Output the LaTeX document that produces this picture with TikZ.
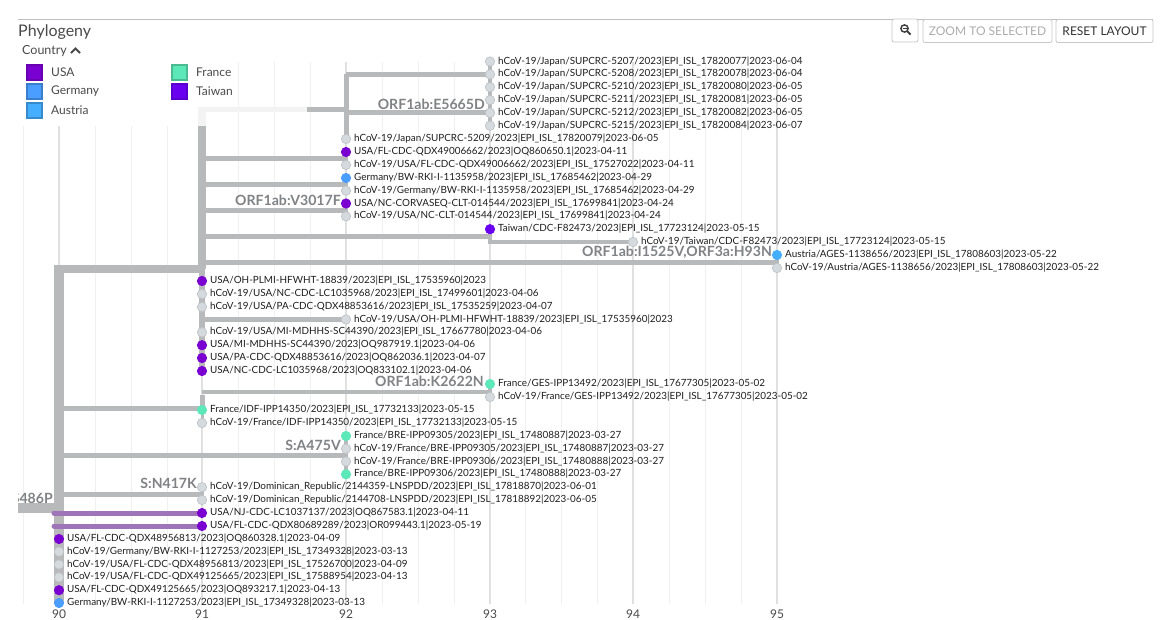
\documentclass[tikz,border=0pt]{standalone}
\usepackage{fontspec}
\setmainfont{Lato}
\pgfdeclarelayer{gridlayer}
\pgfdeclarelayer{branchlayer}
\pgfsetlayers{gridlayer,branchlayer,main}
\definecolor{brgray}{HTML}{B8B9BB}
\definecolor{brlight}{HTML}{F3F3F3}
\definecolor{brpurple}{HTML}{A074B8}
\definecolor{mutgray}{HTML}{808285}
\definecolor{txtdark}{HTML}{1E1E1E}
\definecolor{uiText}{HTML}{4A4A4A}
\definecolor{cUSA}{HTML}{7A00D2}
\definecolor{cGER}{HTML}{4A9EFF}
\definecolor{cAUT}{HTML}{45AEFF}
\definecolor{cFRA}{HTML}{5CE8B8}
\definecolor{cTWN}{HTML}{6A00F0}
\definecolor{cSEQ}{HTML}{D5DADF}
\tikzset{
  tipdot/.style={circle,minimum size=9.4pt,inner sep=0pt,line width=0.7pt},
  seqdot/.style={tipdot,fill=cSEQ,draw=cSEQ!90!black},
  usadot/.style={tipdot,fill=cUSA,draw=cUSA},
  gerdot/.style={tipdot,fill=cGER,draw=cGER},
  autdot/.style={tipdot,fill=cAUT,draw=cAUT},
  fradot/.style={tipdot,fill=cFRA,draw=cFRA},
  twndot/.style={tipdot,fill=cTWN,draw=cTWN},
  tiplabel/.style={anchor=west,inner sep=0pt,text=txtdark,font=\fontsize{9.89}{11}\selectfont},
  mutlabel/.style={anchor=east,inner sep=0pt,text=mutgray,font=\fontsize{14.1}{17}\selectfont\bfseries},
  br/.style={draw=brgray,line width=#1pt},
  br/.default=5,
  minorgrid/.style={draw=black!6,line width=1pt},
  majorgrid/.style={draw=black!12,line width=2pt},
  axislabel/.style={inner sep=0pt,anchor=base,text=uiText,font=\fontsize{12}{14}\selectfont},
  legendbox/.style={minimum size=15.5pt,inner sep=0pt,line width=1.6pt},
  legendtext/.style={anchor=west,inner sep=0pt,text=uiText,font=\fontsize{12}{14}\selectfont},
  uibtn/.style={draw=black!22,rounded corners=2pt,fill=white,line width=0.8pt,minimum height=23pt,inner sep=0pt,font=\fontsize{12}{14}\selectfont},
}
\newcommand{\tipnode}[5]{%
  \node[#4] (#1) at (#2,#3) {};
  \node[tiplabel] (#1-l) at (#2+8,#3-0.3) {#5};
}
\begin{document}
\begin{tikzpicture}[x=1pt,y=-1pt]
\clip (0,0) rectangle (1171,619);
% header
\draw[black!25,line width=1pt] (18,19.5) -- (1153,19.5);
\node[anchor=west,inner sep=0pt,text=uiText,font=\fontsize{16}{18}\selectfont] (title) at (18,32) {Phylogeny};
\node[anchor=west,inner sep=0pt,text=uiText,font=\fontsize{12.5}{14}\selectfont] (country) at (22,51.5) {Country};
\draw[uiText,line width=1.9pt,line join=miter] (71,53) -- (75.5,48.5) -- (80,53);
\node[uibtn,minimum width=26pt] (zoomicon) at (905,30.5) {};
\node[uibtn,minimum width=129pt,text=black!32] (zoomsel) at (987.5,31) {ZOOM TO SELECTED};
\node[uibtn,minimum width=97pt,text=black!80] (resetbtn) at (1104.5,31) {RESET LAYOUT};
\draw[black!75,line width=1.5pt] (904.5,28.5) circle (3.6);
\draw[black!75,line width=2.1pt] (907,31) -- (910.5,34.5);
\draw[black!75,line width=1pt] (902.5,28.5) -- (906.5,28.5);
% legend
\node[legendbox,fill=cUSA,draw=cUSA!85!black] (l1) at (34.5,72.5) {};
\node[legendtext] (l1t) at (51,72.3) {USA};
\node[legendbox,fill=cGER,draw=cGER!80!black] (l2) at (34.5,91.5) {};
\node[legendtext] (l2t) at (51,91.3) {Germany};
\node[legendbox,fill=cAUT,draw=cAUT!80!black] (l3) at (34.5,110.5) {};
\node[legendtext] (l3t) at (51,110.3) {Austria};
\node[legendbox,fill=cFRA,draw=cFRA!80!black] (l4) at (179.5,72.5) {};
\node[legendtext] (l4t) at (196,72.3) {France};
\node[legendbox,fill=cTWN,draw=cTWN!85!black] (l5) at (179.5,91.5) {};
\node[legendtext] (l5t) at (196,91.3) {Taiwan};
% tips x=490 Japan
\tipnode{a1}{490}{61.5}{seqdot}{hCoV-19/Japan/SUPCRC-5207/2023|EPI\_ISL\_17820077|2023-06-04}
\tipnode{a2}{490}{74.3}{seqdot}{hCoV-19/Japan/SUPCRC-5208/2023|EPI\_ISL\_17820078|2023-06-04}
\tipnode{a3}{490}{87.1}{seqdot}{hCoV-19/Japan/SUPCRC-5210/2023|EPI\_ISL\_17820080|2023-06-05}
\tipnode{a4}{490}{100}{seqdot}{hCoV-19/Japan/SUPCRC-5211/2023|EPI\_ISL\_17820081|2023-06-05}
\tipnode{a5}{490}{112.8}{seqdot}{hCoV-19/Japan/SUPCRC-5212/2023|EPI\_ISL\_17820082|2023-06-05}
\tipnode{a6}{490}{125.7}{seqdot}{hCoV-19/Japan/SUPCRC-5215/2023|EPI\_ISL\_17820084|2023-06-07}
% x=346
\tipnode{b1}{346}{139}{seqdot}{hCoV-19/Japan/SUPCRC-5209/2023|EPI\_ISL\_17820079|2023-06-05}
\tipnode{b2}{346}{152}{usadot}{USA/FL-CDC-QDX49006662/2023|OQ860650.1|2023-04-11}
\tipnode{b3}{346}{165}{seqdot}{hCoV-19/USA/FL-CDC-QDX49006662/2023|EPI\_ISL\_17527022|2023-04-11}
\tipnode{b4}{346}{178}{gerdot}{Germany/BW-RKI-I-1135958/2023|EPI\_ISL\_17685462|2023-04-29}
\tipnode{b5}{346}{190.7}{seqdot}{hCoV-19/Germany/BW-RKI-I-1135958/2023|EPI\_ISL\_17685462|2023-04-29}
\tipnode{b6}{346}{203.5}{usadot}{USA/NC-CORVASEQ-CLT-014544/2023|EPI\_ISL\_17699841|2023-04-24}
\tipnode{b7}{346}{216.3}{seqdot}{hCoV-19/USA/NC-CLT-014544/2023|EPI\_ISL\_17699841|2023-04-24}
\tipnode{c1}{490}{229.2}{twndot}{Taiwan/CDC-F82473/2023|EPI\_ISL\_17723124|2023-05-15}
\tipnode{c2}{633}{242}{seqdot}{hCoV-19/Taiwan/CDC-F82473/2023|EPI\_ISL\_17723124|2023-05-15}
\tipnode{d1}{777}{255}{autdot}{Austria/AGES-1138656/2023|EPI\_ISL\_17808603|2023-05-22}
\tipnode{d2}{777}{268}{seqdot}{hCoV-19/Austria/AGES-1138656/2023|EPI\_ISL\_17808603|2023-05-22}
% x=202
\tipnode{e1}{202}{281}{usadot}{USA/OH-PLMI-HFWHT-18839/2023|EPI\_ISL\_17535960|2023}
\tipnode{e2}{202}{294}{seqdot}{hCoV-19/USA/NC-CDC-LC1035968/2023|EPI\_ISL\_17499601|2023-04-06}
\tipnode{e3}{202}{307}{seqdot}{hCoV-19/USA/PA-CDC-QDX48853616/2023|EPI\_ISL\_17535259|2023-04-07}
\tipnode{e4}{346}{319.5}{seqdot}{hCoV-19/USA/OH-PLMI-HFWHT-18839/2023|EPI\_ISL\_17535960|2023}
\tipnode{e5}{202}{332.3}{seqdot}{hCoV-19/USA/MI-MDHHS-SC44390/2023|EPI\_ISL\_17667780|2023-04-06}
\tipnode{e6}{202}{345.2}{usadot}{USA/MI-MDHHS-SC44390/2023|OQ987919.1|2023-04-06}
\tipnode{e7}{202}{358}{usadot}{USA/PA-CDC-QDX48853616/2023|OQ862036.1|2023-04-07}
\tipnode{e8}{202}{371}{usadot}{USA/NC-CDC-LC1035968/2023|OQ833102.1|2023-04-06}
% France
\tipnode{f1}{490}{384}{fradot}{France/GES-IPP13492/2023|EPI\_ISL\_17677305|2023-05-02}
\tipnode{f2}{490}{397}{seqdot}{hCoV-19/France/GES-IPP13492/2023|EPI\_ISL\_17677305|2023-05-02}
\tipnode{f3}{202}{410}{fradot}{France/IDF-IPP14350/2023|EPI\_ISL\_17732133|2023-05-15}
\tipnode{f4}{202}{423}{seqdot}{hCoV-19/France/IDF-IPP14350/2023|EPI\_ISL\_17732133|2023-05-15}
\tipnode{g1}{346}{436}{fradot}{France/BRE-IPP09305/2023|EPI\_ISL\_17480887|2023-03-27}
\tipnode{g2}{346}{448.7}{seqdot}{hCoV-19/France/BRE-IPP09305/2023|EPI\_ISL\_17480887|2023-03-27}
\tipnode{g3}{346}{461.5}{seqdot}{hCoV-19/France/BRE-IPP09306/2023|EPI\_ISL\_17480888|2023-03-27}
\tipnode{g4}{346}{474.3}{fradot}{France/BRE-IPP09306/2023|EPI\_ISL\_17480888|2023-03-27}
\tipnode{h1}{202}{487.2}{seqdot}{hCoV-19/Dominican\_Republic/2144359-LNSPDD/2023|EPI\_ISL\_17818870|2023-06-01}
\tipnode{h2}{202}{500}{seqdot}{hCoV-19/Dominican\_Republic/2144708-LNSPDD/2023|EPI\_ISL\_17818892|2023-06-05}
\tipnode{h3}{202}{513}{usadot}{USA/NJ-CDC-LC1037137/2023|OQ867583.1|2023-04-11}
\tipnode{h4}{202}{526}{usadot}{USA/FL-CDC-QDX80689289/2023|OR099443.1|2023-05-19}
% x=59
\tipnode{k1}{59}{539}{usadot}{USA/FL-CDC-QDX48956813/2023|OQ860328.1|2023-04-09}
\tipnode{k2}{59}{551.7}{seqdot}{hCoV-19/Germany/BW-RKI-I-1127253/2023|EPI\_ISL\_17349328|2023-03-13}
\tipnode{k3}{59}{564.5}{seqdot}{hCoV-19/USA/FL-CDC-QDX48956813/2023|EPI\_ISL\_17526700|2023-04-09}
\tipnode{k4}{59}{577.3}{seqdot}{hCoV-19/USA/FL-CDC-QDX49125665/2023|EPI\_ISL\_17588954|2023-04-13}
\tipnode{k5}{59}{590.2}{usadot}{USA/FL-CDC-QDX49125665/2023|OQ893217.1|2023-04-13}
\tipnode{k6}{59}{603}{gerdot}{Germany/BW-RKI-I-1127253/2023|EPI\_ISL\_17349328|2023-03-13}
% mutation labels
\node[mutlabel] (m1) at (485,104) {ORF1ab:E5665D};
\node[mutlabel] (m2) at (341,200) {ORF1ab:V3017F};
\node[mutlabel] (m3) at (772,252) {ORF1ab:I1525V,ORF3a:H93N};
\node[mutlabel] (m4) at (484,381) {ORF1ab:K2622N};
\node[mutlabel] (m5) at (341,445) {S:A475V};
\node[mutlabel] (m6) at (197,483.5) {S:N417K};
\begin{scope}
\clip (18,480) rectangle (60,515);
\node[mutlabel] (m7) at (53,498.5) {S486P};
\end{scope}
% axis
\node[axislabel] (x90) at (59,618.5) {90};
\node[axislabel] (x91) at (202,618.5) {91};
\node[axislabel] (x92) at (346,618.5) {92};
\node[axislabel] (x93) at (490,618.5) {93};
\node[axislabel] (x94) at (633,618.5) {94};
\node[axislabel] (x95) at (777,618.5) {95};
% junctions
\coordinate (root) at (18,508);
\coordinate (n90top) at (59,265);
\coordinate (n90a) at (59,269);
\coordinate (n91top) at (202,107);
\coordinate (n91fade) at (202,126);
\coordinate (n91mid) at (202,269);
\coordinate (n91lo) at (202,371);
\coordinate (t1) at (202,109.5);
\coordinate (t2) at (307,109.5);
\coordinate (t3) at (346,109.5);
\coordinate (n92top) at (346,73.5);
\coordinate (q1) at (202,158.7);
\coordinate (q2) at (202,184.3);
\coordinate (q3) at (202,210);
\coordinate (q4) at (202,236);
\coordinate (q5) at (202,262);
\coordinate (r1) at (59,408.5);
\coordinate (r2) at (59,455);
\coordinate (r3) at (59,494);
\coordinate (r4) at (54,513);
\coordinate (r5) at (54,526);
\coordinate (s1) at (202,392);
\begin{pgfonlayer}{gridlayer}
  \fill[white] (0,0) rectangle (1171,619);
  \foreach \gx in {23,95,131,167,238,274,310,382,418,454,525.5,561,597,669,705,741}
    \draw[minorgrid] (\gx,62) -- (\gx,604);
  \foreach \gx in {59,202,346,490,633,777}
    \draw[majorgrid] (\gx,62) -- (\gx,604);
  \fill[white] (0,60) rectangle (235,126);
\end{pgfonlayer}
\begin{pgfonlayer}{branchlayer}
  % root and x=90 trunk
  \draw[br=10] (root) -- (root -| k6);
  \draw[br=10] (k6.center) -- (n90top);
  \draw[br=8] (n90a) -- (n91mid);
  % x=91 trunk
  \draw[br=8] (n91fade) -- (n91mid);
  \draw[br=6.5] (n91mid) -- (n91lo);
  \draw[brlight,line width=8pt] (n91top) -- (n91fade);
  \draw[brlight,line width=5.5pt] (t1) -- (t2);
  \draw[br=5.5] (t2) -- (t3);
  % Japan
  \draw[br=5] (n92top) -- (b1.center);
  \draw[br=5] (n92top |- a2.center) -- (a2.center);
  \draw[br=5] (n92top |- a5.center) -- (a5.center);
  \draw[br=4] (a1.center) -- (a6.center);
  % branches from x=91
  \draw[br=5] (q1) -- (q1 -| b2.center);
  \draw[br=4] (b2.center) -- (b3.center);
  \draw[br=5] (q2) -- (q2 -| b4.center);
  \draw[br=4] (b4.center) -- (b5.center);
  \draw[br=5] (q3) -- (q3 -| b6.center);
  \draw[br=4] (b6.center) -- (b7.center);
  \draw[br=5] (q4) -- (q4 -| c1.center);
  \draw[br=4] (c1.center) -- (c1.center |- c2.center);
  \draw[br=4.5] ([xshift=-2pt]c1.center |- c2.center) -- (c2.center);
  \draw[br=5] (q5) -- (q5 -| d1.center);
  \draw[br=4] (d1.center) -- (d2.center);
  \draw[br=5] (e4.center -| e3.center) -- (e4.center);
  % France and others
  \draw[br=5] (r1) -- (r1 -| f3.center);
  \draw[br=5] ([yshift=-2.5pt]s1) -- (f3.center);
  \draw[br=3] (f3.center) -- (f4.center);
  \draw[br=4.5] (s1) -- (s1 -| f1.center);
  \draw[br=4] (f1.center) -- (f2.center);
  \draw[br=5] (r2) -- (r2 -| g1.center);
  \draw[br=4] (g1.center) -- (g4.center);
  \draw[br=5] (r3) -- (r3 -| h1.center);
  \draw[br=3] (h1.center) -- (h2.center);
  \draw[brpurple,line width=5pt,line cap=round] (r4) -- (h3.center);
  \draw[brpurple,line width=5pt,line cap=round] (r5) -- (h4.center);
\end{pgfonlayer}
\end{tikzpicture}
\end{document}
